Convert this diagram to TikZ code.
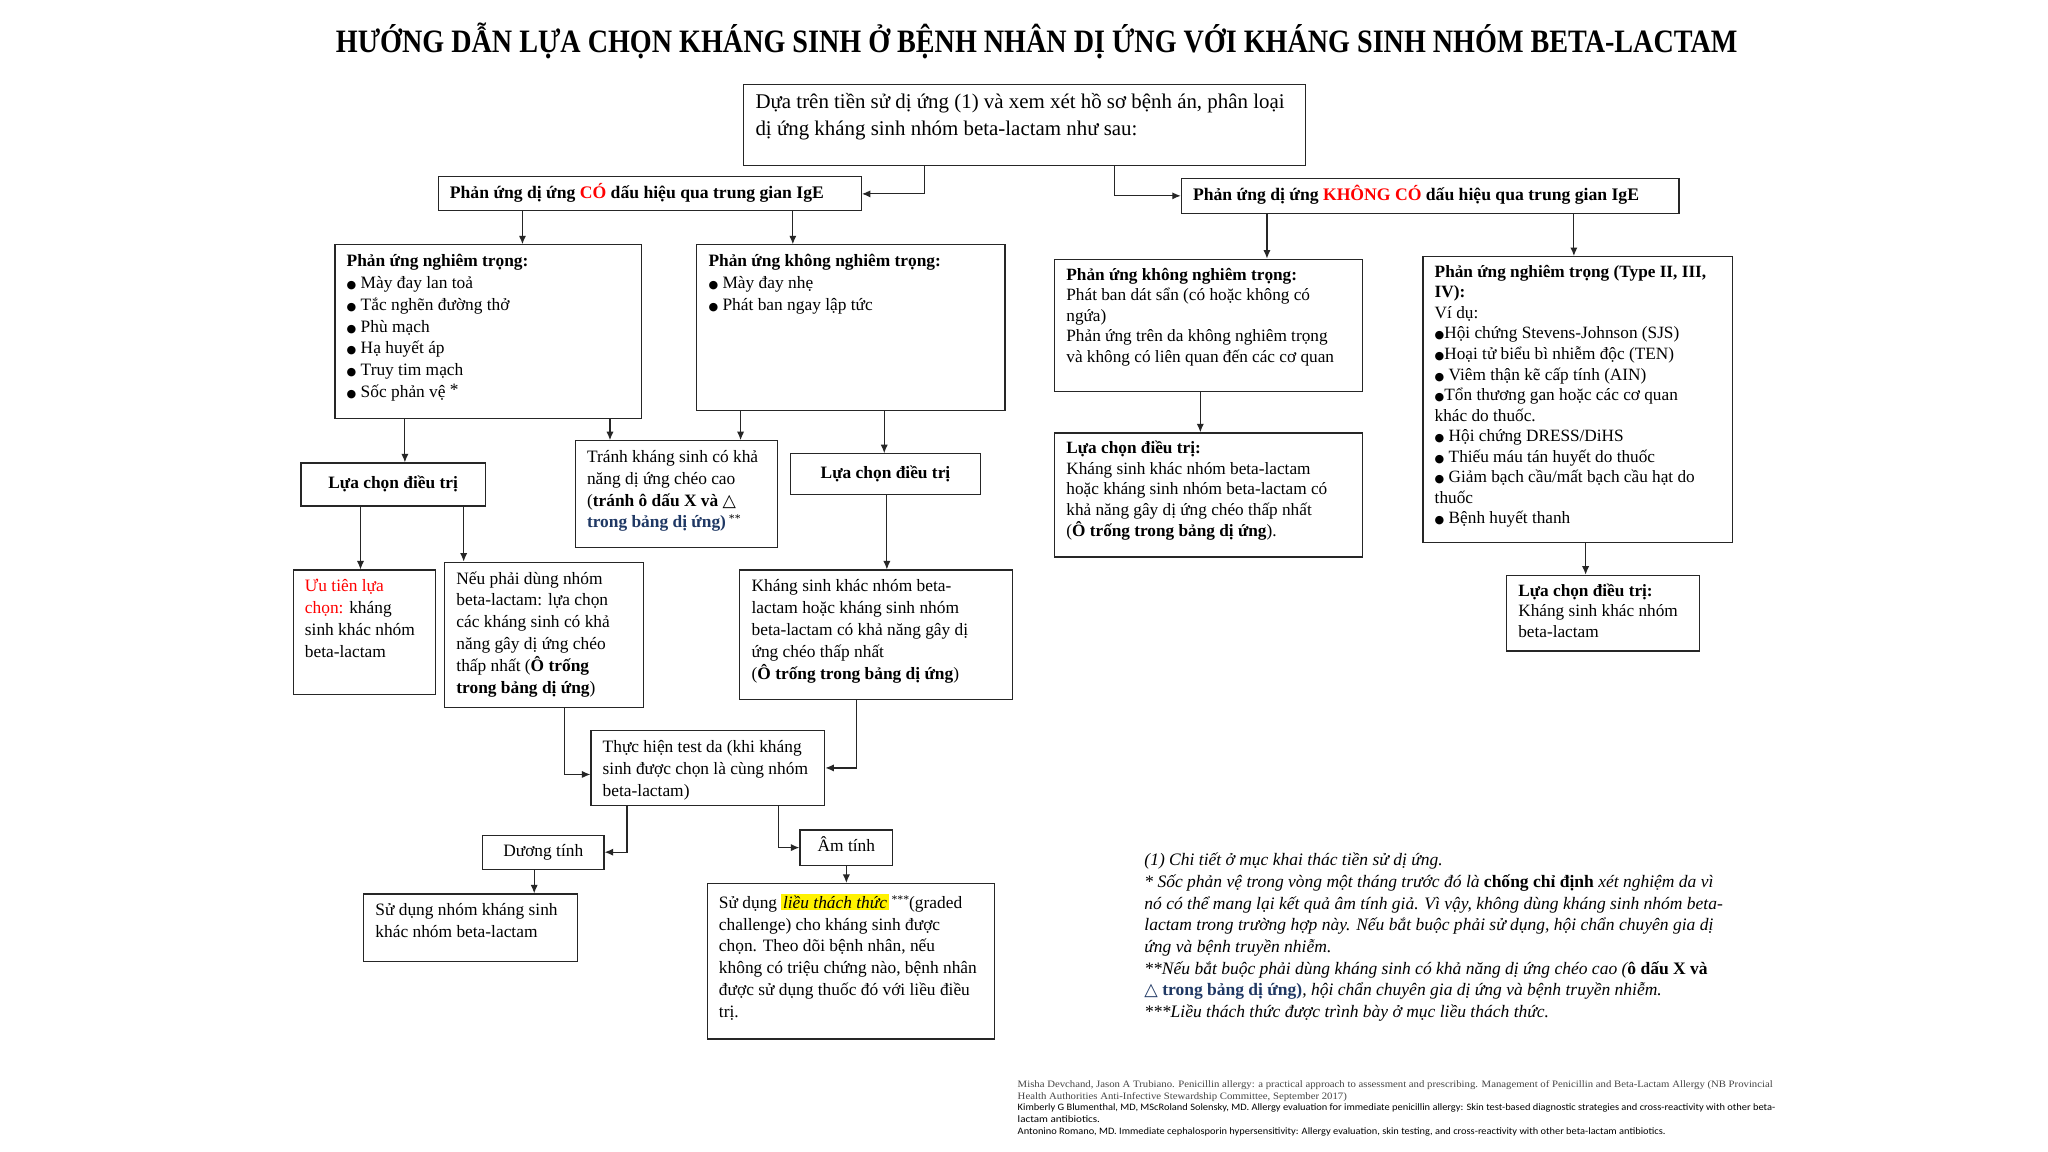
\documentclass[tikz,border=0pt]{standalone}
\usepackage{fontspec}
\setmainfont{Liberation Serif}
\newfontfamily\dvs{DejaVu Sans}
\newfontfamily\carl{Carlito}
\usepackage{graphicx}
\usetikzlibrary{arrows.meta}
\definecolor{navy}{HTML}{1F3864}
\definecolor{refgray}{HTML}{444444}
\newsavebox\fitbox
\newcommand\fitw[2]{\sbox\fitbox{#2}\resizebox{#1}{\ht\fitbox}{\usebox\fitbox}}
\newcommand\bul{{\fontsize{8.5}{0}\selectfont\dvs ●}}
\newcommand\tri{{\dvs △}}
\newcommand\sups[1]{\raisebox{4pt}{\fontsize{9}{0}\selectfont #1}}
\newcommand\hlt[1]{{\setlength\fboxsep{1.2pt}\colorbox{yellow}{\itshape #1}}}
\newcommand\pbt[3]{\parbox[c][\dimexpr#2pt-10pt\relax][t]{\dimexpr#1pt-18pt\relax}{\begin{tabular}[t]{@{}l@{}}#3\end{tabular}}}
\newcommand\pbc[3]{\parbox[c][\dimexpr#2pt-10pt\relax][c]{\dimexpr#1pt-18pt\relax}{\centering\begin{tabular}{@{}c@{}}#3\end{tabular}}}
\newcommand\pbl[3]{\parbox[c][\dimexpr#2pt-10pt\relax][c]{\dimexpr#1pt-18pt\relax}{\begin{tabular}{@{}l@{}}#3\end{tabular}}}
\newcommand\vconn[3]{\coordinate (vc) at ([xshift=#2pt]#1.south west); \draw[arr] (vc) -- (vc |- #3.north);}
\newcommand\fA{\fontsize{13.3}{16.7}\selectfont}
\newcommand\fTop{\fontsize{16}{20}\selectfont}
\newcommand\fM{\fontsize{13.2}{15.7}\selectfont}
\newcommand\fH{\fontsize{13.5}{16}\selectfont\bfseries}
\begin{document}
\begin{tikzpicture}[x=1pt,y=-1pt,
  box/.style={draw=black!85, line width=0.9pt, inner xsep=9pt, inner ysep=5pt, anchor=north west, fill=white, font=\fA},
  arr/.style={draw=black!85, line width=0.9pt, -{Latex[length=6.5pt,width=5.5pt]}}]
\fill[white] (0,0) rectangle (1568,882);
\useasboundingbox (0,0) rectangle (1568,882);

\node[anchor=base west, inner sep=0] (title) at (257,40)
  {\fitw{1073pt}{\fontsize{25}{30}\selectfont\bfseries HƯỚNG DẪN LỰA CHỌN KHÁNG SINH Ở BỆNH NHÂN DỊ ỨNG VỚI KHÁNG SINH NHÓM BETA-LACTAM}};

\node[box, font=\fTop] (top) at (569,64) {\pbt{430}{62}{Dựa trên tiền sử dị ứng (1) và xem xét hồ sơ bệnh án, phân loại\\ dị ứng kháng sinh nhóm beta-lactam như sau:}};

\node[box, font=\fH] (igeL) at (335,135) {\pbl{324}{26}{Phản ứng dị ứng \textcolor{red}{CÓ} dấu hiệu qua trung gian IgE}};
\node[box, font=\fH] (igeR) at (904,136) {\pbl{381}{27}{Phản ứng dị ứng \textcolor{red}{KHÔNG CÓ} dấu hiệu qua trung gian IgE}};

\node[box] (A) at (256,187) {\pbt{235}{133}{\textbf{Phản ứng nghiêm trọng:}\\
\bul\ Mày đay lan toả\\ \bul\ Tắc nghẽn đường thở\\ \bul\ Phù mạch\\ \bul\ Hạ huyết áp\\ \bul\ Truy tim mạch\\ \bul\ Sốc phản vệ \raisebox{1.5pt}{*}}};

\node[box] (B) at (533,187) {\pbt{236}{127}{\textbf{Phản ứng không nghiêm trọng:}\\
\bul\ Mày đay nhẹ\\ \bul\ Phát ban ngay lập tức}};

\node[box] (C) at (230,354) {\pbc{141}{33}{\textbf{Lựa chọn điều trị}}};

\node[box] (D) at (440,337) {\pbt{155}{82}{Tránh kháng sinh có khả\\ năng dị ứng chéo cao\\ (\textbf{tránh ô dấu X và \tri}\\ \textbf{\textcolor{navy}{trong bảng dị ứng)}}\,\sups{**}}};

\node[box] (E) at (605,347) {\pbc{145}{31}{\textbf{Lựa chọn điều trị}}};

\node[box] (F) at (224,436) {\pbt{109}{95}{\textcolor{red}{Ưu tiên lựa}\\ \textcolor{red}{chọn:} kháng\\ sinh khác nhóm\\ beta-lactam}};

\node[box] (G) at (340,430) {\pbt{152}{111}{Nếu phải dùng nhóm\\ beta-lactam: lựa chọn\\ các kháng sinh có khả\\ năng gây dị ứng chéo\\ thấp nhất (\textbf{Ô trống}\\ \textbf{trong bảng dị ứng})}};

\node[box] (H) at (566,436) {\pbt{209}{99}{Kháng sinh khác nhóm beta-\\ lactam hoặc kháng sinh nhóm\\ beta-lactam có khả năng gây dị\\ ứng chéo thấp nhất\\ (\textbf{Ô trống trong bảng dị ứng})}};

\node[box] (I) at (452,559) {\pbt{179}{57}{Thực hiện test da (khi kháng\\ sinh được chọn là cùng nhóm\\ beta-lactam)}};

\node[box] (Duong) at (369,639) {\pbc{93}{26}{Dương tính}};
\node[box] (Am) at (612,635) {\pbc{71}{27}{Âm tính}};

\node[box] (J) at (278,684) {\pbt{164}{52}{Sử dụng nhóm kháng sinh\\ khác nhóm beta-lactam}};

\node[box] (K) at (541,676) {\pbt{220}{119}{\rule{0pt}{14pt}Sử dụng \hlt{liều thách thức}\,\sups{***}(graded\\ challenge) cho kháng sinh được\\ chọn. Theo dõi bệnh nhân, nếu\\ không có triệu chứng nào, bệnh nhân\\ được sử dụng thuốc đó với liều điều\\ trị.}};

\node[box, font=\fM] (L) at (807,198) {\pbt{236}{101}{\textbf{Phản ứng không nghiêm trọng:}\\ Phát ban dát sẩn (có hoặc không có\\ ngứa)\\ Phản ứng trên da không nghiêm trọng\\ và không có liên quan đến các cơ quan}};

\node[box, font=\fM] (M) at (1089,196) {\pbt{237}{219}{\textbf{Phản ứng nghiêm trọng (Type II, III,}\\ \textbf{IV):}\\ Ví dụ:\\ \bul Hội chứng Stevens-Johnson (SJS)\\ \bul Hoại tử biểu bì nhiễm độc (TEN)\\ \bul\ Viêm thận kẽ cấp tính (AIN)\\ \bul Tổn thương gan hoặc các cơ quan\\ khác do thuốc.\\ \bul\ Hội chứng DRESS/DiHS\\ \bul\ Thiếu máu tán huyết do thuốc\\ \bul\ Giảm bạch cầu/mất bạch cầu hạt do\\ thuốc\\ \bul\ Bệnh huyết thanh}};

\node[box, font=\fM] (N) at (807,331) {\pbt{236}{95}{\textbf{Lựa chọn điều trị:}\\ Kháng sinh khác nhóm beta-lactam\\ hoặc kháng sinh nhóm beta-lactam có\\ khả năng gây dị ứng chéo thấp nhất\\ (\textbf{Ô trống trong bảng dị ứng}).}};

\node[box, font=\fM] (O) at (1153,440) {\pbt{148}{58}{\textbf{Lựa chọn điều trị:}\\ Kháng sinh khác nhóm\\ beta-lactam}};

% connectors
\coordinate (c1) at ([xshift=139pt]top.south west);
\draw[arr] (c1) |- (igeL.east);
\coordinate (c2) at ([xshift=284pt]top.south west);
\draw[arr] (c2) |- (igeR.west);
\vconn{igeL}{65}{A}
\vconn{igeL}{272}{B}
\vconn{igeR}{66}{L}
\vconn{igeR}{301}{M}
\vconn{A}{54}{C}
\vconn{A}{211}{D}
\vconn{B}{34}{D}
\vconn{B}{144}{E}
\vconn{C}{46}{F}
\vconn{C}{125}{G}
\vconn{E}{74}{H}
\vconn{L}{112}{N}
\vconn{M}{125}{O}
\vconn{Duong}{40}{J}
\vconn{Am}{36}{K}
\coordinate (c3) at ([xshift=92pt]G.south west);
\draw[arr] (c3) |- ([yshift=-5pt]I.west);
\coordinate (c4) at ([xshift=90pt]H.south west);
\draw[arr] (c4) |- (I.east);
\coordinate (c5) at ([xshift=28pt]I.south west);
\draw[arr] (c5) |- (Duong.east);
\coordinate (c6) at ([xshift=144pt]I.south west);
\draw[arr] (c6) |- (Am.west);

% footnotes
\node[anchor=north west, inner sep=0, font=\fontsize{13.4}{16.6}\selectfont\itshape] (notes) at (876,651) {\begin{tabular}{@{}l@{}}
(1) Chi tiết ở mục khai thác tiền sử dị ứng.\\
{}* Sốc phản vệ trong vòng một tháng trước đó là \textbf{\upshape chống chỉ định} xét nghiệm da vì\\
nó có thể mang lại kết quả âm tính giả. Vì vậy, không dùng kháng sinh nhóm beta-\\
lactam trong trường hợp này. Nếu bắt buộc phải sử dụng, hội chẩn chuyên gia dị\\
ứng và bệnh truyền nhiễm.\\
{}**Nếu bắt buộc phải dùng kháng sinh có khả năng dị ứng chéo cao (\textbf{\upshape ô dấu X và}\\
\textbf{\upshape\color{navy}\tri\ trong bảng dị ứng)}, hội chẩn chuyên gia dị ứng và bệnh truyền nhiễm.\\
{}***Liều thách thức được trình bày ở mục liều thách thức.
\end{tabular}};

% references
\node[anchor=north west, inner sep=0, font=\fontsize{7.5}{9}\selectfont] (refs) at (779,826) {\begin{tabular}{@{}l@{}}
\fitw{578pt}{\color{refgray}Misha Devchand, Jason A Trubiano. Penicillin allergy: a practical approach to assessment and prescribing. Management of Penicillin and Beta-Lactam Allergy (NB Provincial}\\
\fitw{252pt}{\color{refgray}Health Authorities Anti-Infective Stewardship Committee, September 2017)}\\
\fitw{580pt}{\carl Kimberly G Blumenthal, MD, MScRoland Solensky, MD. Allergy evaluation for immediate penicillin allergy: Skin test-based diagnostic strategies and cross-reactivity with other beta-}\\
\fitw{63pt}{\carl lactam antibiotics.}\\
\fitw{496pt}{\carl Antonino Romano, MD. Immediate cephalosporin hypersensitivity: Allergy evaluation, skin testing, and cross-reactivity with other beta-lactam antibiotics.}
\end{tabular}};
\end{tikzpicture}
\end{document}
